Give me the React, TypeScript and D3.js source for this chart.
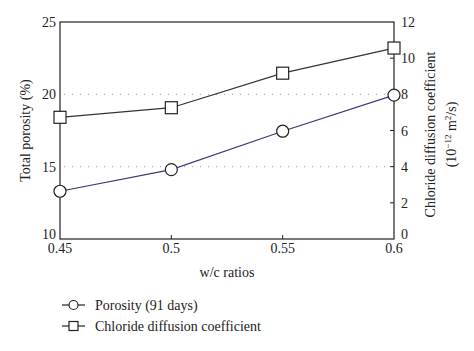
import { useEffect, useRef } from 'react';
import * as d3 from 'd3';

const wcRatios = [0.45, 0.5, 0.55, 0.6];
const porosity = [13.3, 14.8, 17.45, 19.95];
const chloride = [6.73, 7.26, 9.17, 10.56];
const xTicks = [0.45, 0.5, 0.55, 0.6];
const leftTicks = [10, 15, 20, 25];
const rightTicks = [0, 2, 4, 6, 8, 10, 12];
const gridValues = [15, 20];

const W = 474;
const H = 351;
const FONT = '"Liberation Serif", "DejaVu Serif", serif';

export default function App() {
  const svgRef = useRef<SVGSVGElement>(null);

  useEffect(() => {
    if (!svgRef.current) return;
    const svg = d3.select(svgRef.current);
    svg.selectAll('*').remove();

    const left = 60, right = 394, top = 22, bottom = 239;

    const x = d3.scaleLinear().domain([0.45, 0.6]).range([left, right]);
    const yL = d3.scaleLinear().domain([10, 25]).range([bottom, top]);
    const yR = d3.scaleLinear().domain([0, 12]).range([bottom, top]);

    // dotted grid lines
    svg.append('g')
      .selectAll('line')
      .data(gridValues)
      .join('line')
      .attr('x1', left + 4)
      .attr('x2', right)
      .attr('y1', d => yL(d))
      .attr('y2', d => yL(d))
      .attr('stroke', '#999')
      .attr('stroke-width', 1)
      .attr('stroke-dasharray', '1,7');

    // frame
    svg.append('rect')
      .attr('x', left)
      .attr('y', top)
      .attr('width', right - left)
      .attr('height', bottom - top)
      .attr('fill', 'none')
      .attr('stroke', '#222')
      .attr('stroke-width', 1.2);

    const textStyle = (sel: d3.Selection<SVGTextElement, any, any, any>) =>
      sel.style('font-family', FONT).style('font-size', '14px').style('fill', '#222');

    // x ticks
    svg.append('g')
      .selectAll('line')
      .data(xTicks.slice(1, -1))
      .join('line')
      .attr('x1', d => x(d))
      .attr('x2', d => x(d))
      .attr('y1', bottom)
      .attr('y2', bottom - 4)
      .attr('stroke', '#222');

    svg.append('g')
      .selectAll('text')
      .data(xTicks)
      .join('text')
      .attr('x', d => x(d))
      .attr('y', bottom + 14)
      .attr('text-anchor', 'middle')
      .text(d => String(d))
      .call(textStyle);

    // left ticks
    svg.append('g')
      .selectAll('text')
      .data(leftTicks)
      .join('text')
      .attr('x', left - 4)
      .attr('y', d => yL(d) + (d === 10 ? 0 : 5))
      .attr('text-anchor', 'end')
      .text(d => String(d))
      .call(textStyle);

    // right ticks
    svg.append('g')
      .selectAll('line')
      .data(rightTicks.slice(1, -1))
      .join('line')
      .attr('x1', right)
      .attr('x2', right - 4)
      .attr('y1', d => yR(d))
      .attr('y2', d => yR(d))
      .attr('stroke', '#222');

    svg.append('g')
      .selectAll('text')
      .data(rightTicks)
      .join('text')
      .attr('x', right + 7)
      .attr('y', d => yR(d) + (d === 0 ? 0 : 5))
      .attr('text-anchor', 'start')
      .text(d => String(d))
      .call(textStyle);

    // axis titles
    svg.append('text')
      .attr('transform', `translate(30,${(top + bottom) / 2}) rotate(-90)`)
      .attr('text-anchor', 'middle')
      .text('Total porosity (%)')
      .call(textStyle);

    svg.append('text')
      .attr('transform', `translate(435,${(top + bottom) / 2 + 4}) rotate(-90)`)
      .attr('text-anchor', 'middle')
      .text('Chloride diffusion coefficient')
      .call(textStyle);

    const unit = svg.append('text')
      .attr('transform', `translate(456,${(top + bottom) / 2 + 4}) rotate(-90)`)
      .attr('text-anchor', 'middle')
      .call(textStyle);
    unit.append('tspan').text('(10');
    unit.append('tspan').attr('dy', -5).style('font-size', '9px').text('−12');
    unit.append('tspan').attr('dy', 5).text(' m');
    unit.append('tspan').attr('dy', -5).style('font-size', '9px').text('2');
    unit.append('tspan').attr('dy', 5).text('/s)');

    svg.append('text')
      .attr('x', (left + right) / 2)
      .attr('y', 277)
      .attr('text-anchor', 'middle')
      .text('w/c ratios')
      .call(textStyle);

    // series
    const porLine = d3.line<number>()
      .x((_, i) => x(wcRatios[i]))
      .y(d => yL(d));
    const chlLine = d3.line<number>()
      .x((_, i) => x(wcRatios[i]))
      .y(d => yR(d));

    svg.append('path')
      .attr('d', chlLine(chloride))
      .attr('fill', 'none')
      .attr('stroke', '#333')
      .attr('stroke-width', 1.2);

    svg.append('path')
      .attr('d', porLine(porosity))
      .attr('fill', 'none')
      .attr('stroke', '#3b3a78')
      .attr('stroke-width', 1.2);

    svg.append('g')
      .selectAll('rect')
      .data(chloride)
      .join('rect')
      .attr('x', (_, i) => x(wcRatios[i]) - 6)
      .attr('y', d => yR(d) - 6)
      .attr('width', 12)
      .attr('height', 12)
      .attr('fill', '#fff')
      .attr('stroke', '#222')
      .attr('stroke-width', 1.2);

    svg.append('g')
      .selectAll('circle')
      .data(porosity)
      .join('circle')
      .attr('cx', (_, i) => x(wcRatios[i]))
      .attr('cy', d => yL(d))
      .attr('r', 6)
      .attr('fill', '#fff')
      .attr('stroke', '#222')
      .attr('stroke-width', 1.2);

    // legend
    const legend = svg.append('g');
    const items = [
      { label: 'Porosity (91 days)', shape: 'circle', y: 305 },
      { label: 'Chloride diffusion coefficient', shape: 'square', y: 326 },
    ];
    items.forEach(it => {
      legend.append('line')
        .attr('x1', 62)
        .attr('x2', 85)
        .attr('y1', it.y)
        .attr('y2', it.y)
        .attr('stroke', '#222')
        .attr('stroke-width', 1.2);
      if (it.shape === 'circle') {
        legend.append('circle')
          .attr('cx', 73.5)
          .attr('cy', it.y)
          .attr('r', 4.5)
          .attr('fill', '#fff')
          .attr('stroke', '#222')
          .attr('stroke-width', 1.2);
      } else {
        legend.append('rect')
          .attr('x', 69)
          .attr('y', it.y - 4.5)
          .attr('width', 9)
          .attr('height', 9)
          .attr('fill', '#fff')
          .attr('stroke', '#222')
          .attr('stroke-width', 1.2);
      }
      legend.append('text')
        .attr('x', 95)
        .attr('y', it.y + 5)
        .text(it.label)
        .call(textStyle);
    });
  }, []);

  return (
    <svg
      ref={svgRef}
      width={W}
      height={H}
      style={{ position: 'absolute', left: 0, top: 0, background: '#fff' }}
    />
  );
}
